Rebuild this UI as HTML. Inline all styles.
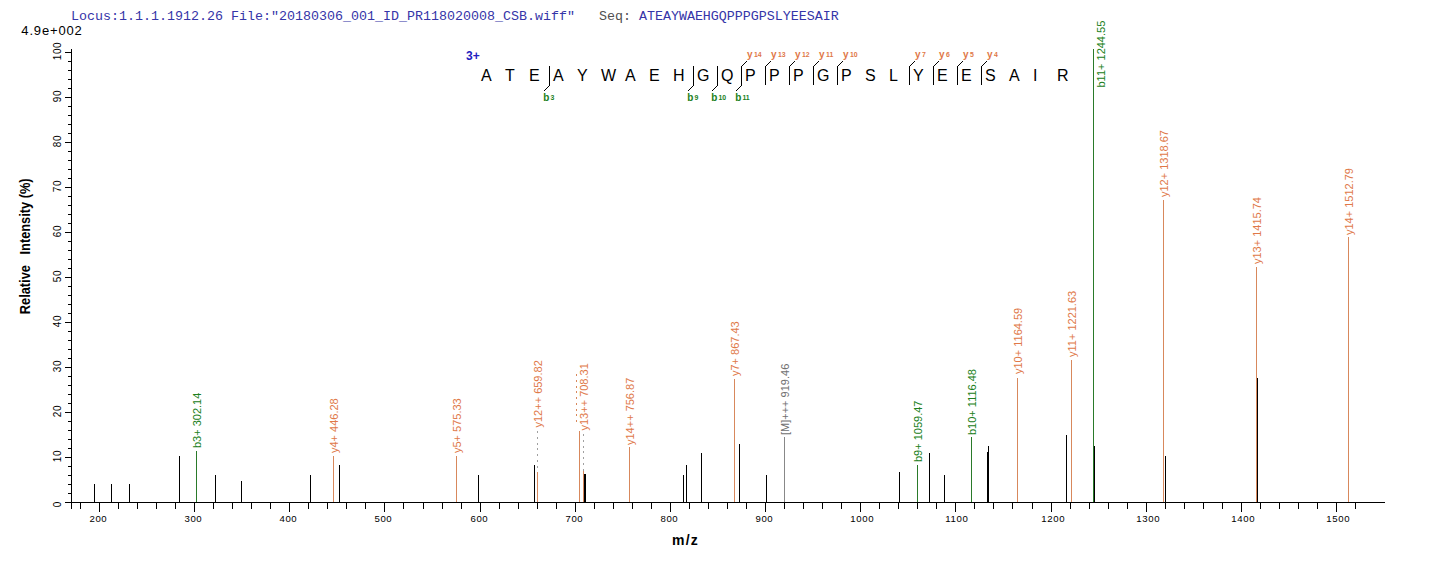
<!DOCTYPE html>
<html><head><meta charset="utf-8"><style>
html,body{margin:0;padding:0;background:#fff;}
svg{display:block;}
text{font-family:"Liberation Sans",sans-serif;}
.mono{font-family:"Liberation Mono",monospace;}
</style></head><body>
<svg width="1436" height="562" viewBox="0 0 1436 562" shape-rendering="crispEdges">
<rect width="1436" height="562" fill="#fff"/>
<rect x="94" y="484" width="1" height="18" fill="#000000"/>
<rect x="111" y="484" width="1" height="18" fill="#000000"/>
<rect x="129" y="484" width="1" height="18" fill="#000000"/>
<rect x="179" y="456" width="1" height="46" fill="#000000"/>
<rect x="215" y="475" width="1" height="27" fill="#000000"/>
<rect x="241" y="481" width="1" height="21" fill="#000000"/>
<rect x="310" y="475" width="1" height="27" fill="#000000"/>
<rect x="339" y="465" width="1" height="37" fill="#000000"/>
<rect x="478" y="475" width="1" height="27" fill="#000000"/>
<rect x="534" y="465" width="1" height="37" fill="#000000"/>
<rect x="584" y="474" width="1" height="28" fill="#000000"/>
<rect x="585" y="474" width="1" height="28" fill="#000000"/>
<rect x="683" y="475" width="1" height="27" fill="#000000"/>
<rect x="686" y="465" width="1" height="37" fill="#000000"/>
<rect x="701" y="453" width="1" height="49" fill="#000000"/>
<rect x="739" y="444" width="1" height="58" fill="#000000"/>
<rect x="766" y="475" width="1" height="27" fill="#000000"/>
<rect x="899" y="472" width="1" height="30" fill="#000000"/>
<rect x="929" y="453" width="1" height="49" fill="#000000"/>
<rect x="944" y="475" width="1" height="27" fill="#000000"/>
<rect x="987" y="452" width="1" height="50" fill="#000000"/>
<rect x="988" y="446" width="1" height="56" fill="#000000"/>
<rect x="1066" y="435" width="1" height="67" fill="#000000"/>
<rect x="1094" y="446" width="1" height="56" fill="#000000"/>
<rect x="1165" y="456" width="1" height="46" fill="#000000"/>
<rect x="1257" y="378" width="1" height="124" fill="#000000"/>
<rect x="196" y="451" width="1" height="51" fill="#2a7a2a"/>
<rect x="333" y="456" width="1" height="46" fill="#d8885c"/>
<rect x="456" y="456" width="1" height="46" fill="#d8885c"/>
<rect x="629" y="447" width="1" height="55" fill="#d8885c"/>
<rect x="734" y="379" width="1" height="123" fill="#d8885c"/>
<rect x="784" y="437" width="1" height="65" fill="#888888"/>
<rect x="917" y="465" width="1" height="37" fill="#2a7a2a"/>
<rect x="971" y="437" width="1" height="65" fill="#2a7a2a"/>
<rect x="1017" y="378" width="1" height="124" fill="#d8885c"/>
<rect x="1071" y="360" width="1" height="142" fill="#d8885c"/>
<rect x="1163" y="200" width="1" height="302" fill="#d8885c"/>
<rect x="1256" y="267" width="1" height="235" fill="#d8885c"/>
<rect x="1348" y="237" width="1" height="265" fill="#d8885c"/>
<rect x="1093" y="49" width="1" height="453" fill="#2a7a2a"/>
<rect x="537" y="472" width="1" height="30" fill="#d8885c"/>
<rect x="579" y="431" width="1" height="71" fill="#d8885c"/>
<rect x="583" y="471" width="1" height="31" fill="#d8885c"/>
<line x1="537.5" y1="431" x2="537.5" y2="471" stroke="#a0a0a0" stroke-width="1" stroke-dasharray="2,3.75"/>
<line x1="583.5" y1="434" x2="583.5" y2="471" stroke="#a0a0a0" stroke-width="1" stroke-dasharray="2,3.75"/>
<line x1="576.5" y1="374" x2="576.5" y2="422" stroke="#d8885c" stroke-width="1" stroke-dasharray="2,3.75"/>
<rect x="71" y="49" width="1" height="460" fill="#000000"/>
<rect x="65" y="502" width="1320" height="1" fill="#000000"/>
<rect x="65" y="502" width="6" height="1" fill="#000000"/>
<rect x="68" y="493" width="3" height="1" fill="#000000"/>
<rect x="68" y="484" width="3" height="1" fill="#000000"/>
<rect x="68" y="475" width="3" height="1" fill="#000000"/>
<rect x="68" y="466" width="3" height="1" fill="#000000"/>
<rect x="65" y="457" width="6" height="1" fill="#000000"/>
<rect x="68" y="448" width="3" height="1" fill="#000000"/>
<rect x="68" y="439" width="3" height="1" fill="#000000"/>
<rect x="68" y="430" width="3" height="1" fill="#000000"/>
<rect x="68" y="421" width="3" height="1" fill="#000000"/>
<rect x="65" y="412" width="6" height="1" fill="#000000"/>
<rect x="68" y="403" width="3" height="1" fill="#000000"/>
<rect x="68" y="394" width="3" height="1" fill="#000000"/>
<rect x="68" y="385" width="3" height="1" fill="#000000"/>
<rect x="68" y="376" width="3" height="1" fill="#000000"/>
<rect x="65" y="367" width="6" height="1" fill="#000000"/>
<rect x="68" y="358" width="3" height="1" fill="#000000"/>
<rect x="68" y="349" width="3" height="1" fill="#000000"/>
<rect x="68" y="340" width="3" height="1" fill="#000000"/>
<rect x="68" y="331" width="3" height="1" fill="#000000"/>
<rect x="65" y="322" width="6" height="1" fill="#000000"/>
<rect x="68" y="313" width="3" height="1" fill="#000000"/>
<rect x="68" y="304" width="3" height="1" fill="#000000"/>
<rect x="68" y="295" width="3" height="1" fill="#000000"/>
<rect x="68" y="286" width="3" height="1" fill="#000000"/>
<rect x="65" y="277" width="6" height="1" fill="#000000"/>
<rect x="68" y="268" width="3" height="1" fill="#000000"/>
<rect x="68" y="259" width="3" height="1" fill="#000000"/>
<rect x="68" y="250" width="3" height="1" fill="#000000"/>
<rect x="68" y="241" width="3" height="1" fill="#000000"/>
<rect x="65" y="232" width="6" height="1" fill="#000000"/>
<rect x="68" y="223" width="3" height="1" fill="#000000"/>
<rect x="68" y="214" width="3" height="1" fill="#000000"/>
<rect x="68" y="205" width="3" height="1" fill="#000000"/>
<rect x="68" y="196" width="3" height="1" fill="#000000"/>
<rect x="65" y="187" width="6" height="1" fill="#000000"/>
<rect x="68" y="178" width="3" height="1" fill="#000000"/>
<rect x="68" y="169" width="3" height="1" fill="#000000"/>
<rect x="68" y="160" width="3" height="1" fill="#000000"/>
<rect x="68" y="151" width="3" height="1" fill="#000000"/>
<rect x="65" y="142" width="6" height="1" fill="#000000"/>
<rect x="68" y="133" width="3" height="1" fill="#000000"/>
<rect x="68" y="124" width="3" height="1" fill="#000000"/>
<rect x="68" y="115" width="3" height="1" fill="#000000"/>
<rect x="68" y="106" width="3" height="1" fill="#000000"/>
<rect x="65" y="97" width="6" height="1" fill="#000000"/>
<rect x="68" y="88" width="3" height="1" fill="#000000"/>
<rect x="68" y="79" width="3" height="1" fill="#000000"/>
<rect x="68" y="70" width="3" height="1" fill="#000000"/>
<rect x="68" y="61" width="3" height="1" fill="#000000"/>
<rect x="65" y="52" width="6" height="1" fill="#000000"/>
<rect x="80" y="503" width="1" height="6" fill="#000000"/>
<rect x="99" y="503" width="1" height="9" fill="#000000"/>
<text x="89.6" y="522" font-size="9.6" letter-spacing="0.55" fill="#000">200</text>
<rect x="118" y="503" width="1" height="6" fill="#000000"/>
<rect x="137" y="503" width="1" height="6" fill="#000000"/>
<rect x="156" y="503" width="1" height="6" fill="#000000"/>
<rect x="175" y="503" width="1" height="6" fill="#000000"/>
<rect x="194" y="503" width="1" height="9" fill="#000000"/>
<text x="184.6" y="522" font-size="9.6" letter-spacing="0.55" fill="#000">300</text>
<rect x="213" y="503" width="1" height="6" fill="#000000"/>
<rect x="232" y="503" width="1" height="6" fill="#000000"/>
<rect x="251" y="503" width="1" height="6" fill="#000000"/>
<rect x="270" y="503" width="1" height="6" fill="#000000"/>
<rect x="289" y="503" width="1" height="9" fill="#000000"/>
<text x="279.6" y="522" font-size="9.6" letter-spacing="0.55" fill="#000">400</text>
<rect x="308" y="503" width="1" height="6" fill="#000000"/>
<rect x="327" y="503" width="1" height="6" fill="#000000"/>
<rect x="346" y="503" width="1" height="6" fill="#000000"/>
<rect x="365" y="503" width="1" height="6" fill="#000000"/>
<rect x="384" y="503" width="1" height="9" fill="#000000"/>
<text x="374.6" y="522" font-size="9.6" letter-spacing="0.55" fill="#000">500</text>
<rect x="403" y="503" width="1" height="6" fill="#000000"/>
<rect x="423" y="503" width="1" height="6" fill="#000000"/>
<rect x="442" y="503" width="1" height="6" fill="#000000"/>
<rect x="461" y="503" width="1" height="6" fill="#000000"/>
<rect x="480" y="503" width="1" height="9" fill="#000000"/>
<text x="470.6" y="522" font-size="9.6" letter-spacing="0.55" fill="#000">600</text>
<rect x="499" y="503" width="1" height="6" fill="#000000"/>
<rect x="518" y="503" width="1" height="6" fill="#000000"/>
<rect x="537" y="503" width="1" height="6" fill="#000000"/>
<rect x="556" y="503" width="1" height="6" fill="#000000"/>
<rect x="575" y="503" width="1" height="9" fill="#000000"/>
<text x="565.6" y="522" font-size="9.6" letter-spacing="0.55" fill="#000">700</text>
<rect x="594" y="503" width="1" height="6" fill="#000000"/>
<rect x="613" y="503" width="1" height="6" fill="#000000"/>
<rect x="632" y="503" width="1" height="6" fill="#000000"/>
<rect x="651" y="503" width="1" height="6" fill="#000000"/>
<rect x="670" y="503" width="1" height="9" fill="#000000"/>
<text x="660.6" y="522" font-size="9.6" letter-spacing="0.55" fill="#000">800</text>
<rect x="689" y="503" width="1" height="6" fill="#000000"/>
<rect x="708" y="503" width="1" height="6" fill="#000000"/>
<rect x="727" y="503" width="1" height="6" fill="#000000"/>
<rect x="746" y="503" width="1" height="6" fill="#000000"/>
<rect x="765" y="503" width="1" height="9" fill="#000000"/>
<text x="755.6" y="522" font-size="9.6" letter-spacing="0.55" fill="#000">900</text>
<rect x="784" y="503" width="1" height="6" fill="#000000"/>
<rect x="803" y="503" width="1" height="6" fill="#000000"/>
<rect x="822" y="503" width="1" height="6" fill="#000000"/>
<rect x="841" y="503" width="1" height="6" fill="#000000"/>
<rect x="860" y="503" width="1" height="9" fill="#000000"/>
<text x="850.2" y="522" font-size="9.6" letter-spacing="0.65" fill="#000">1000</text>
<rect x="879" y="503" width="1" height="6" fill="#000000"/>
<rect x="898" y="503" width="1" height="6" fill="#000000"/>
<rect x="917" y="503" width="1" height="6" fill="#000000"/>
<rect x="936" y="503" width="1" height="6" fill="#000000"/>
<rect x="955" y="503" width="1" height="9" fill="#000000"/>
<text x="945.2" y="522" font-size="9.6" letter-spacing="0.65" fill="#000">1100</text>
<rect x="974" y="503" width="1" height="6" fill="#000000"/>
<rect x="993" y="503" width="1" height="6" fill="#000000"/>
<rect x="1012" y="503" width="1" height="6" fill="#000000"/>
<rect x="1032" y="503" width="1" height="6" fill="#000000"/>
<rect x="1051" y="503" width="1" height="9" fill="#000000"/>
<text x="1041.2" y="522" font-size="9.6" letter-spacing="0.65" fill="#000">1200</text>
<rect x="1070" y="503" width="1" height="6" fill="#000000"/>
<rect x="1089" y="503" width="1" height="6" fill="#000000"/>
<rect x="1108" y="503" width="1" height="6" fill="#000000"/>
<rect x="1127" y="503" width="1" height="6" fill="#000000"/>
<rect x="1146" y="503" width="1" height="9" fill="#000000"/>
<text x="1136.2" y="522" font-size="9.6" letter-spacing="0.65" fill="#000">1300</text>
<rect x="1165" y="503" width="1" height="6" fill="#000000"/>
<rect x="1184" y="503" width="1" height="6" fill="#000000"/>
<rect x="1203" y="503" width="1" height="6" fill="#000000"/>
<rect x="1222" y="503" width="1" height="6" fill="#000000"/>
<rect x="1241" y="503" width="1" height="9" fill="#000000"/>
<text x="1231.2" y="522" font-size="9.6" letter-spacing="0.65" fill="#000">1400</text>
<rect x="1260" y="503" width="1" height="6" fill="#000000"/>
<rect x="1279" y="503" width="1" height="6" fill="#000000"/>
<rect x="1298" y="503" width="1" height="6" fill="#000000"/>
<rect x="1317" y="503" width="1" height="6" fill="#000000"/>
<rect x="1336" y="503" width="1" height="9" fill="#000000"/>
<text x="1326.2" y="522" font-size="9.6" letter-spacing="0.65" fill="#000">1500</text>
<rect x="1355" y="503" width="1" height="6" fill="#000000"/>
<text transform="translate(60.8,504.1) rotate(-90)" font-size="10" letter-spacing="0.6" text-anchor="middle" fill="#000">0</text>
<text transform="translate(60.8,456.0) rotate(-90)" font-size="10" letter-spacing="0.6" text-anchor="middle" fill="#000">10</text>
<text transform="translate(60.8,411.0) rotate(-90)" font-size="10" letter-spacing="0.6" text-anchor="middle" fill="#000">20</text>
<text transform="translate(60.8,366.0) rotate(-90)" font-size="10" letter-spacing="0.6" text-anchor="middle" fill="#000">30</text>
<text transform="translate(60.8,321.0) rotate(-90)" font-size="10" letter-spacing="0.6" text-anchor="middle" fill="#000">40</text>
<text transform="translate(60.8,276.0) rotate(-90)" font-size="10" letter-spacing="0.6" text-anchor="middle" fill="#000">50</text>
<text transform="translate(60.8,231.0) rotate(-90)" font-size="10" letter-spacing="0.6" text-anchor="middle" fill="#000">60</text>
<text transform="translate(60.8,186.0) rotate(-90)" font-size="10" letter-spacing="0.6" text-anchor="middle" fill="#000">70</text>
<text transform="translate(60.8,141.0) rotate(-90)" font-size="10" letter-spacing="0.6" text-anchor="middle" fill="#000">80</text>
<text transform="translate(60.8,96.0) rotate(-90)" font-size="10" letter-spacing="0.6" text-anchor="middle" fill="#000">90</text>
<text transform="translate(60.8,51.0) rotate(-90)" font-size="10" letter-spacing="0.6" text-anchor="middle" fill="#000">100</text>
<text transform="translate(201.4,448) rotate(-90)" font-size="11" fill="#208020">b3+ 302.14</text>
<text transform="translate(338.4,453) rotate(-90)" font-size="11" fill="#e07848">y4+ 446.28</text>
<text transform="translate(461.4,453) rotate(-90)" font-size="11" fill="#e07848">y5+ 575.33</text>
<text transform="translate(634.4,445) rotate(-90)" font-size="11" fill="#e07848">y14++ 756.87</text>
<text transform="translate(739.4,376) rotate(-90)" font-size="11" fill="#e07848">y7+ 867.43</text>
<text transform="translate(789.4,435) rotate(-90)" font-size="11" fill="#707070">[M]+++ 919.46</text>
<text transform="translate(922.4,462) rotate(-90)" font-size="11" fill="#208020">b9+ 1059.47</text>
<text transform="translate(976.4,435) rotate(-90)" font-size="11" fill="#208020">b10+ 1116.48</text>
<text transform="translate(1022.4,374) rotate(-90)" font-size="11" fill="#e07848">y10+ 1164.59</text>
<text transform="translate(1076.4,357) rotate(-90)" font-size="11" fill="#e07848">y11+ 1221.63</text>
<text transform="translate(1168.4,197) rotate(-90)" font-size="11" fill="#e07848">y12+ 1318.67</text>
<text transform="translate(1261.4,264) rotate(-90)" font-size="11" fill="#e07848">y13+ 1415.74</text>
<text transform="translate(1353.4,235) rotate(-90)" font-size="11" fill="#e07848">y14+ 1512.79</text>
<text transform="translate(1105.4,87.5) rotate(-90)" font-size="11" fill="#208020">b11+ 1244.55</text>
<text transform="translate(542.4,427.5) rotate(-90)" font-size="11" fill="#e07848">y12++ 659.82</text>
<text transform="translate(588.4,430.5) rotate(-90)" font-size="11" fill="#e07848">y13++ 708.31</text>
<text x="21.3" y="35" font-size="13" letter-spacing="0.85" fill="#000">4.9e+002</text>
<text transform="translate(29.6,314.2) rotate(-90) scale(0.985,1.1)" font-size="13" font-weight="bold" fill="#000" xml:space="preserve">Relative   Intensity (%)</text>
<text x="672" y="545" font-size="14" font-weight="bold" letter-spacing="1.2" fill="#000">m/z</text>
<text x="71" y="19.5" class="mono" font-size="13.33" fill="#3535a8" xml:space="preserve">Locus:1.1.1.1912.26 File:"20180306_001_ID_PR118020008_CSB.wiff"   <tspan fill="#505050">Seq:</tspan> ATEAYWAEHGQPPPGPSLYEESAIR</text>
<text x="481.0" y="81" font-size="16" fill="#000">A</text>
<text x="505.0" y="81" font-size="16" fill="#000">T</text>
<text x="529.0" y="81" font-size="16" fill="#000">E</text>
<text x="553.0" y="81" font-size="16" fill="#000">A</text>
<text x="577.0" y="81" font-size="16" fill="#000">Y</text>
<text x="601.0" y="81" font-size="16" fill="#000">W</text>
<text x="625.0" y="81" font-size="16" fill="#000">A</text>
<text x="649.0" y="81" font-size="16" fill="#000">E</text>
<text x="673.0" y="81" font-size="16" fill="#000">H</text>
<text x="697.0" y="81" font-size="16" fill="#000">G</text>
<text x="721.0" y="81" font-size="16" fill="#000">Q</text>
<text x="745.0" y="81" font-size="16" fill="#000">P</text>
<text x="769.0" y="81" font-size="16" fill="#000">P</text>
<text x="793.0" y="81" font-size="16" fill="#000">P</text>
<text x="817.0" y="81" font-size="16" fill="#000">G</text>
<text x="841.0" y="81" font-size="16" fill="#000">P</text>
<text x="865.0" y="81" font-size="16" fill="#000">S</text>
<text x="889.0" y="81" font-size="16" fill="#000">L</text>
<text x="913.0" y="81" font-size="16" fill="#000">Y</text>
<text x="937.0" y="81" font-size="16" fill="#000">E</text>
<text x="961.0" y="81" font-size="16" fill="#000">E</text>
<text x="985.0" y="81" font-size="16" fill="#000">S</text>
<text x="1009.0" y="81" font-size="16" fill="#000">A</text>
<text x="1033.0" y="81" font-size="16" fill="#000">I</text>
<text x="1057.0" y="81" font-size="16" fill="#000">R</text>
<text x="466" y="60" font-size="12" font-weight="bold" fill="#2020c0">3+</text>
<polyline points="549.5,66 549.5,85.5 544.0,90.7" fill="none" stroke="#000" stroke-width="1"/>
<text x="543.2" y="100.8" font-size="10" font-weight="bold" fill="#208020">b</text>
<text x="550.4" y="99.8" font-size="6.9" font-weight="bold" fill="#208020">3</text>
<polyline points="693.5,66 693.5,85.5 688.0,90.7" fill="none" stroke="#000" stroke-width="1"/>
<text x="687.2" y="100.8" font-size="10" font-weight="bold" fill="#208020">b</text>
<text x="694.4" y="99.8" font-size="6.9" font-weight="bold" fill="#208020">9</text>
<polyline points="717.5,66 717.5,85.5 712.0,90.7" fill="none" stroke="#000" stroke-width="1"/>
<text x="711.2" y="100.8" font-size="10" font-weight="bold" fill="#208020">b</text>
<text x="718.4" y="99.8" font-size="6.9" font-weight="bold" fill="#208020">10</text>
<polyline points="741.5,66 741.5,85.5 736.0,90.7" fill="none" stroke="#000" stroke-width="1"/>
<text x="735.2" y="100.8" font-size="10" font-weight="bold" fill="#208020">b</text>
<text x="742.4" y="99.8" font-size="6.9" font-weight="bold" fill="#208020">11</text>
<polyline points="746.8,61 741.5,66.3 741.5,84.6" fill="none" stroke="#000" stroke-width="1"/>
<text x="747.0" y="57.5" font-size="10" font-weight="bold" fill="#e07848">y</text>
<text x="754.0" y="56.8" font-size="6.9" font-weight="bold" fill="#e07848">14</text>
<polyline points="770.8,61 765.5,66.3 765.5,84.6" fill="none" stroke="#000" stroke-width="1"/>
<text x="771.0" y="57.5" font-size="10" font-weight="bold" fill="#e07848">y</text>
<text x="778.0" y="56.8" font-size="6.9" font-weight="bold" fill="#e07848">13</text>
<polyline points="794.8,61 789.5,66.3 789.5,84.6" fill="none" stroke="#000" stroke-width="1"/>
<text x="795.0" y="57.5" font-size="10" font-weight="bold" fill="#e07848">y</text>
<text x="802.0" y="56.8" font-size="6.9" font-weight="bold" fill="#e07848">12</text>
<polyline points="818.8,61 813.5,66.3 813.5,84.6" fill="none" stroke="#000" stroke-width="1"/>
<text x="819.0" y="57.5" font-size="10" font-weight="bold" fill="#e07848">y</text>
<text x="826.0" y="56.8" font-size="6.9" font-weight="bold" fill="#e07848">11</text>
<polyline points="842.8,61 837.5,66.3 837.5,84.6" fill="none" stroke="#000" stroke-width="1"/>
<text x="843.0" y="57.5" font-size="10" font-weight="bold" fill="#e07848">y</text>
<text x="850.0" y="56.8" font-size="6.9" font-weight="bold" fill="#e07848">10</text>
<polyline points="914.8,61 909.5,66.3 909.5,84.6" fill="none" stroke="#000" stroke-width="1"/>
<text x="915.0" y="57.5" font-size="10" font-weight="bold" fill="#e07848">y</text>
<text x="922.0" y="56.8" font-size="6.9" font-weight="bold" fill="#e07848">7</text>
<polyline points="938.8,61 933.5,66.3 933.5,84.6" fill="none" stroke="#000" stroke-width="1"/>
<text x="939.0" y="57.5" font-size="10" font-weight="bold" fill="#e07848">y</text>
<text x="946.0" y="56.8" font-size="6.9" font-weight="bold" fill="#e07848">6</text>
<polyline points="962.8,61 957.5,66.3 957.5,84.6" fill="none" stroke="#000" stroke-width="1"/>
<text x="963.0" y="57.5" font-size="10" font-weight="bold" fill="#e07848">y</text>
<text x="970.0" y="56.8" font-size="6.9" font-weight="bold" fill="#e07848">5</text>
<polyline points="986.8,61 981.5,66.3 981.5,84.6" fill="none" stroke="#000" stroke-width="1"/>
<text x="987.0" y="57.5" font-size="10" font-weight="bold" fill="#e07848">y</text>
<text x="994.0" y="56.8" font-size="6.9" font-weight="bold" fill="#e07848">4</text>
</svg>
</body></html>
